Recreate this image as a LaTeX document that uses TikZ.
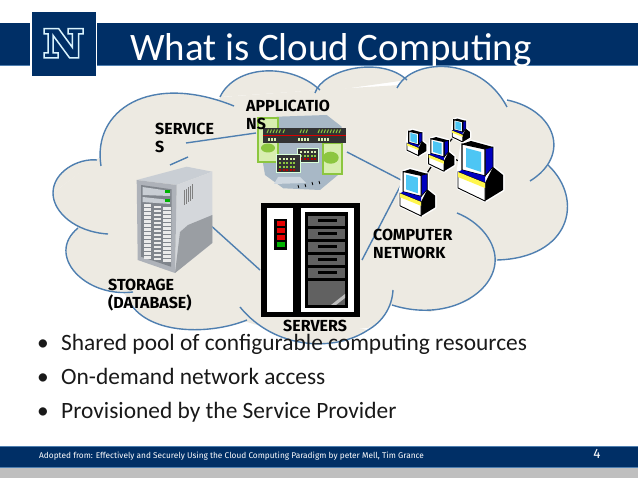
\documentclass[tikz,border=0pt]{standalone}
\usepackage{fontspec}
\setmainfont{Carlito}
\newfontfamily\labelfont{Fira Sans}
\definecolor{navy}{HTML}{002F66}
\definecolor{bandedge}{HTML}{4F7FB0}
\definecolor{cloudfill}{HTML}{EDEAE2}
\definecolor{cloudedge}{HTML}{4F7FB0}
\definecolor{appgreen}{HTML}{8CC63F}
\definecolor{apppale}{HTML}{D8EEB0}
\definecolor{appgrey}{HTML}{A8B8C6}
\definecolor{towertop}{HTML}{C9CED4}
\definecolor{towerside}{HTML}{D4D7DB}
\definecolor{towerlow}{HTML}{9A9EA3}
\definecolor{towerfront}{HTML}{AEB2B9}
\definecolor{towerpanel}{HTML}{80858C}
\newcommand{\cloudarcs}{101/166/92/110/150/72/234/106,
  220/97/235/65/290/62/320/90,
  315/93/322/70/380/55/407/80,
  397/88/412/58/480/55/507/107,
  507/100/555/110/572/155/530/181,
  548/165/585/200/570/258/497/260,
  457/213/480/222/497/243/495/263,
  495/263/492/295/445/322/392/305,
  393/290/392/308/382/322/368/330,
  368/330/335/352/275/350/240/307,
  247/320/210/335/150/335/130/303,
  133/292/85/298/45/255/78/228,
  108/234/75/232/53/212/53/193,
  53/193/53/172/78/158/97/160}
\begin{document}
\begin{tikzpicture}[x=1pt,y=-1pt,
    cloudline/.style={draw=cloudedge,line width=1.4pt},
    tag/.style={font=\labelfont\bfseries\fontsize{16}{18}\selectfont,align=left,anchor=north west,inner sep=0pt,text=black},
    point/.style={font=\fontsize{23.4}{28}\selectfont,anchor=base west,inner sep=0pt,text=black!90},
    pcicon/.pic={
      \begin{scope}[shift={(-20,-28)}]
        \draw[white,fill=white,line width=3pt,line join=round] (0,31) -- (4,3) -- (13,0) -- (35,6) -- (35,26) -- (45,34) -- (45,49) -- (27,60) -- (0,47) -- cycle;
        \fill[black] (4,3) -- (13,0) -- (35,6) -- (27,8) -- cycle;
        \draw[black,fill=blue!75!black,line width=.7pt] (27,8) -- (35,6) -- (35,26) -- (27,35) -- cycle;
        \draw[black,fill=white,line width=1.1pt] (4,3) -- (27,8) -- (27,35) -- (4,29) -- cycle;
        \fill[cyan!70!white] (8,7) -- (23,11) -- (23,31) -- (8,26) -- cycle;
        \fill[blue!75!black] (4,29) -- (27,35) -- (27,42) -- (0,31) -- cycle;
        \fill[black] (27,42) -- (35,26) -- (45,34) -- (45,49) -- (27,60) -- cycle;
        \draw[black,fill=white,line width=.9pt] (0,31) -- (27,42) -- (27,60) -- (0,47) -- cycle;
        \fill[yellow!70!white] (0,31) -- (27,42) -- (27,47) -- (0,36) -- cycle;
      \end{scope}
    }]
  \useasboundingbox (0,0) rectangle (638,478);
  % Draw bands
  \fill[navy] (0,23) rectangle (638,65);
  \draw[bandedge,line width=.6pt] (0,65) -- (638,65);
  \fill[white] (30,10) rectangle (97,78);
  \fill[navy] (32,12) rectangle (96,76);
  \draw[white!85!cyan,fill=navy,line width=1.5pt,line join=miter] (44,28.7) -- (58.7,28.7) -- (72.3,47.3) -- (72.3,34) -- (68,34) -- (68,28.7) -- (83,28.7) -- (83,34) -- (78.7,34) -- (78.7,58) -- (69.7,58) -- (53,35.3) -- (53,53) -- (58,53) -- (58,58) -- (44,58) -- (44,53) -- (48,53) -- (48,34) -- (44,34) -- cycle;
  \fill[navy] (0,446) rectangle (638,467);
  \fill[black!25] (0,467) rectangle (638,478);
  \draw[bandedge,line width=.6pt] (0,446) -- (638,446) (0,467) -- (638,467);
  \node[font=\fontsize{38.9}{40}\selectfont,text=white,anchor=base west,inner sep=0pt] (title) at (130,61) {What is Cloud Computing};
  % Draw cloud
  \fill[cloudfill] (100,157) -- (222,97) -- (318,90) -- (400,85) -- (507,102) -- (545,150) -- (560,200) -- (497,260) -- (490,270) -- (470,300) -- (430,312) -- (392,305) -- (368,328) -- (290,335) -- (247,322) -- (135,309) -- (78,228) -- (53,193) -- cycle;
  \foreach \ax/\ay/\bx/\by/\cx/\cy/\dx/\dy in \cloudarcs
    \fill[cloudfill] (\ax,\ay) .. controls (\bx,\by) and (\cx,\cy) .. (\dx,\dy) -- cycle;
  \foreach \ax/\ay/\bx/\by/\cx/\cy/\dx/\dy in \cloudarcs
    \draw[cloudline] (\ax,\ay) .. controls (\bx,\by) and (\cx,\cy) .. (\dx,\dy);
  % Draw links
  \coordinate (svcA) at (186,143);
  \coordinate (svcB) at (256,133);
  \coordinate (stoA) at (170,165);
  \coordinate (stoB) at (188,157);
  \coordinate (srvA) at (208,223);
  \coordinate (srvB) at (260,270);
  \coordinate (netA) at (347,152);
  \coordinate (netB) at (403,181);
  \coordinate (netC) at (362,260);
  \draw[cloudline] (svcA) -- (svcB);
  \draw[cloudline] (stoA) -- (stoB);
  \draw[cloudline] (srvA) -- (srvB);
  \draw[cloudline] (netA) -- (netB);
  \draw[cloudline] (netC) -- (netB);
  % Draw storage tower
  \fill[towertop] (136.7,180) -- (186.7,166.7) -- (212.3,171.7) -- (176.7,185) -- cycle;
  \fill[towerside] (176.7,185) -- (212.3,171.7) -- (212.3,243) -- (175,273) -- cycle;
  \fill[towerlow] (180,232) -- (188,225) -- (212.3,215) -- (212.3,243) -- (175,273) -- cycle;
  \fill[towerfront] (136.7,180) -- (176.7,185) -- (175,273) -- (137.7,260) -- cycle;
  \fill[towerpanel] (141,185) -- (171.7,189.3) -- (171,266.7) -- (141,256.7) -- cycle;
  \fill[towertop] (142.5,187) -- (170,191) -- (170,196) -- (142.5,195) -- cycle;
  \fill[towertop] (142.5,197) -- (170,200) -- (170,204) -- (142.5,202) -- cycle;
  \fill[green!70!black] (165,190.5) rectangle (170,193.5);
  \fill[green!70!black] (165,199.5) rectangle (170,202.5);
  \foreach \col in {143.5,153.5,163}
    \foreach \row in {0,...,13}
      \fill[white!92!black] (\col,{204.5+\row*4+(\col-143.5)*.14}) rectangle ++(7.5,2.6);
  \foreach \vent in {184,186,188,190,192}
    \draw[black!50,line width=.8pt] (\vent,{190-(\vent-184)*.7}) -- ++(0,15);
  % Draw servers
  \fill[black] (260.7,203.3) rectangle (360,316.7);
  \fill[white] (267.3,208.3) rectangle (293.3,311.7);
  \fill[white] (300.7,208.3) rectangle (354,311.7);
  \fill[black] (305,212.3) rectangle (348.3,307.7);
  \foreach \row in {215.7,228.7,241.7,254.7,267.7} {
    \fill[black!62] (308.3,\row) rectangle ++(36.7,10);
    \fill[black] (317.7,\row+3.8) rectangle ++(19,2.5);
  }
  \fill[black!62] (308.3,280.7) rectangle (345,305);
  \fill[black!25] (345,294) -- (345,298) -- (336,305) -- (331,305) -- cycle;
  \fill[black] (274,219) rectangle (287.3,250);
  \foreach \led in {224,231,238}
    \fill[red!90!black] (276.5,\led-2.5) rectangle ++(8,5);
  \fill[green!70!black] (276.5,242.5) rectangle ++(8,5);
  % Draw application icon
  \fill[appgrey] (276.7,116.7) -- (326.7,115) -- (341.7,126.7) -- (340,173.3) -- (320,190) -- (283.3,188.3) -- (265,175) -- (260,145) -- cycle;
  \fill[appgreen] (256.7,116.7) rectangle (279,163);
  \fill[apppale] (259,119) rectangle (276.5,161);
  \fill[appgreen] (268,148) ellipse (7 and 4.5);
  \fill[appgreen] (321.7,141.7) rectangle (343.3,175);
  \fill[apppale] (324,144) rectangle (341,173);
  \fill[appgreen] (330.7,157.7) ellipse (8 and 6);
  \fill[black!80] (262.7,128.3) rectangle (346,143.3);
  \draw[red!85!black,line width=.8pt] (262.7,135) -- (346,135);
  \foreach \tick in {267,270,273,276,279,283,300,303,306,318,321,324,327,330,333,336,339}
    \draw[appgreen,line width=1pt] (\tick,133) -- ++(1.5,-3.5);
  \foreach \tick in {268,271,274,298,301,304,307,318,321,324,327}
    \fill[apppale] (\tick,138.5) rectangle ++(1.6,3);
  \draw[white!85!green,fill=black!80,line width=1pt] (297,149) rectangle (318,163);
  \foreach \dotx in {300,303.5,307,310.5,314}
    \foreach \doty/\dotc in {151.5/apppale,155/appgreen,158.5/red!70!black}
      \fill[\dotc] (\dotx,\doty) rectangle ++(2,2);
  \draw[white!85!green,fill=black!80,line width=1pt] (276,155) rectangle (300,173);
  \foreach \dotx in {279,282.5,286,289.5,293}
    \foreach \doty/\dotc in {158/apppale,162/appgreen,166/appgreen,169.5/red!70!black}
      \fill[\dotc] (\dotx,\doty) rectangle ++(2,2);
  \fill[appgrey!55!white] (278,177) -- (300,177) -- (306,183) -- (274,184) -- cycle;
  \foreach \tick/\ticky in {298/185,305/184,312/182,319/181}
    \draw[black,line width=.8pt] (\tick,\ticky) -- ++(.8,3);
  % Draw computer network
  \coordinate (pcA) at (415.6,142);
  \coordinate (pcB) at (440,153);
  \coordinate (pcC) at (460,129.5);
  \coordinate (pcD) at (478,169);
  \coordinate (pcE) at (415.6,191);
  \draw[black,line width=1.2pt] (pcA) -- (pcB);
  \draw[black,line width=1.2pt] (pcB) -- (pcC);
  \draw[black,line width=1.2pt] (pcB) -- (pcD);
  \draw[black,line width=1.2pt] (pcB) -- (pcE);
  \pic[scale=.43] at (pcA) {pcicon};
  \pic[scale=.39] at (pcC) {pcicon};
  \pic[scale=.57] at (pcB) {pcicon};
  \pic at (pcD) {pcicon};
  \pic[scale=.78] at (pcE) {pcicon};
  % Draw labels
  \node[tag] (services) at (155,123) {SERVICE\\S};
  \node[tag] (applications) at (246,100) {APPLICATIO\\NS};
  \node[tag] (storage) at (108,279) {STORAGE\\(DATABASE)};
  \node[tag] (network) at (373,229) {COMPUTER\\NETWORK};
  \node[tag] (servers) at (283,320) {SERVERS};
  % Draw bullets
  \node[point] (bulletA) at (37,350.5) {•};
  \node[point] (bulletB) at (37,384.5) {•};
  \node[point] (bulletC) at (37,418.5) {•};
  \node[point] (shared) at (61,350.5) {Shared pool of configurable computing resources};
  \node[point] (demand) at (61,384.5) {On-demand network access};
  \node[point] (service) at (61,418.5) {Provisioned by the Service Provider};
  % Draw footer
  \node[font=\labelfont\fontsize{8.3}{10}\selectfont,text=white,anchor=base west,inner sep=0pt] (credit) at (39,458.5) {Adopted from: Effectively and Securely Using the Cloud Computing Paradigm by peter Mell, Tim Grance};
  \node[font=\labelfont\fontsize{13.5}{14}\selectfont,text=white,anchor=base,inner sep=0pt] (page) at (597,459) {4};
\end{tikzpicture}
\end{document}
